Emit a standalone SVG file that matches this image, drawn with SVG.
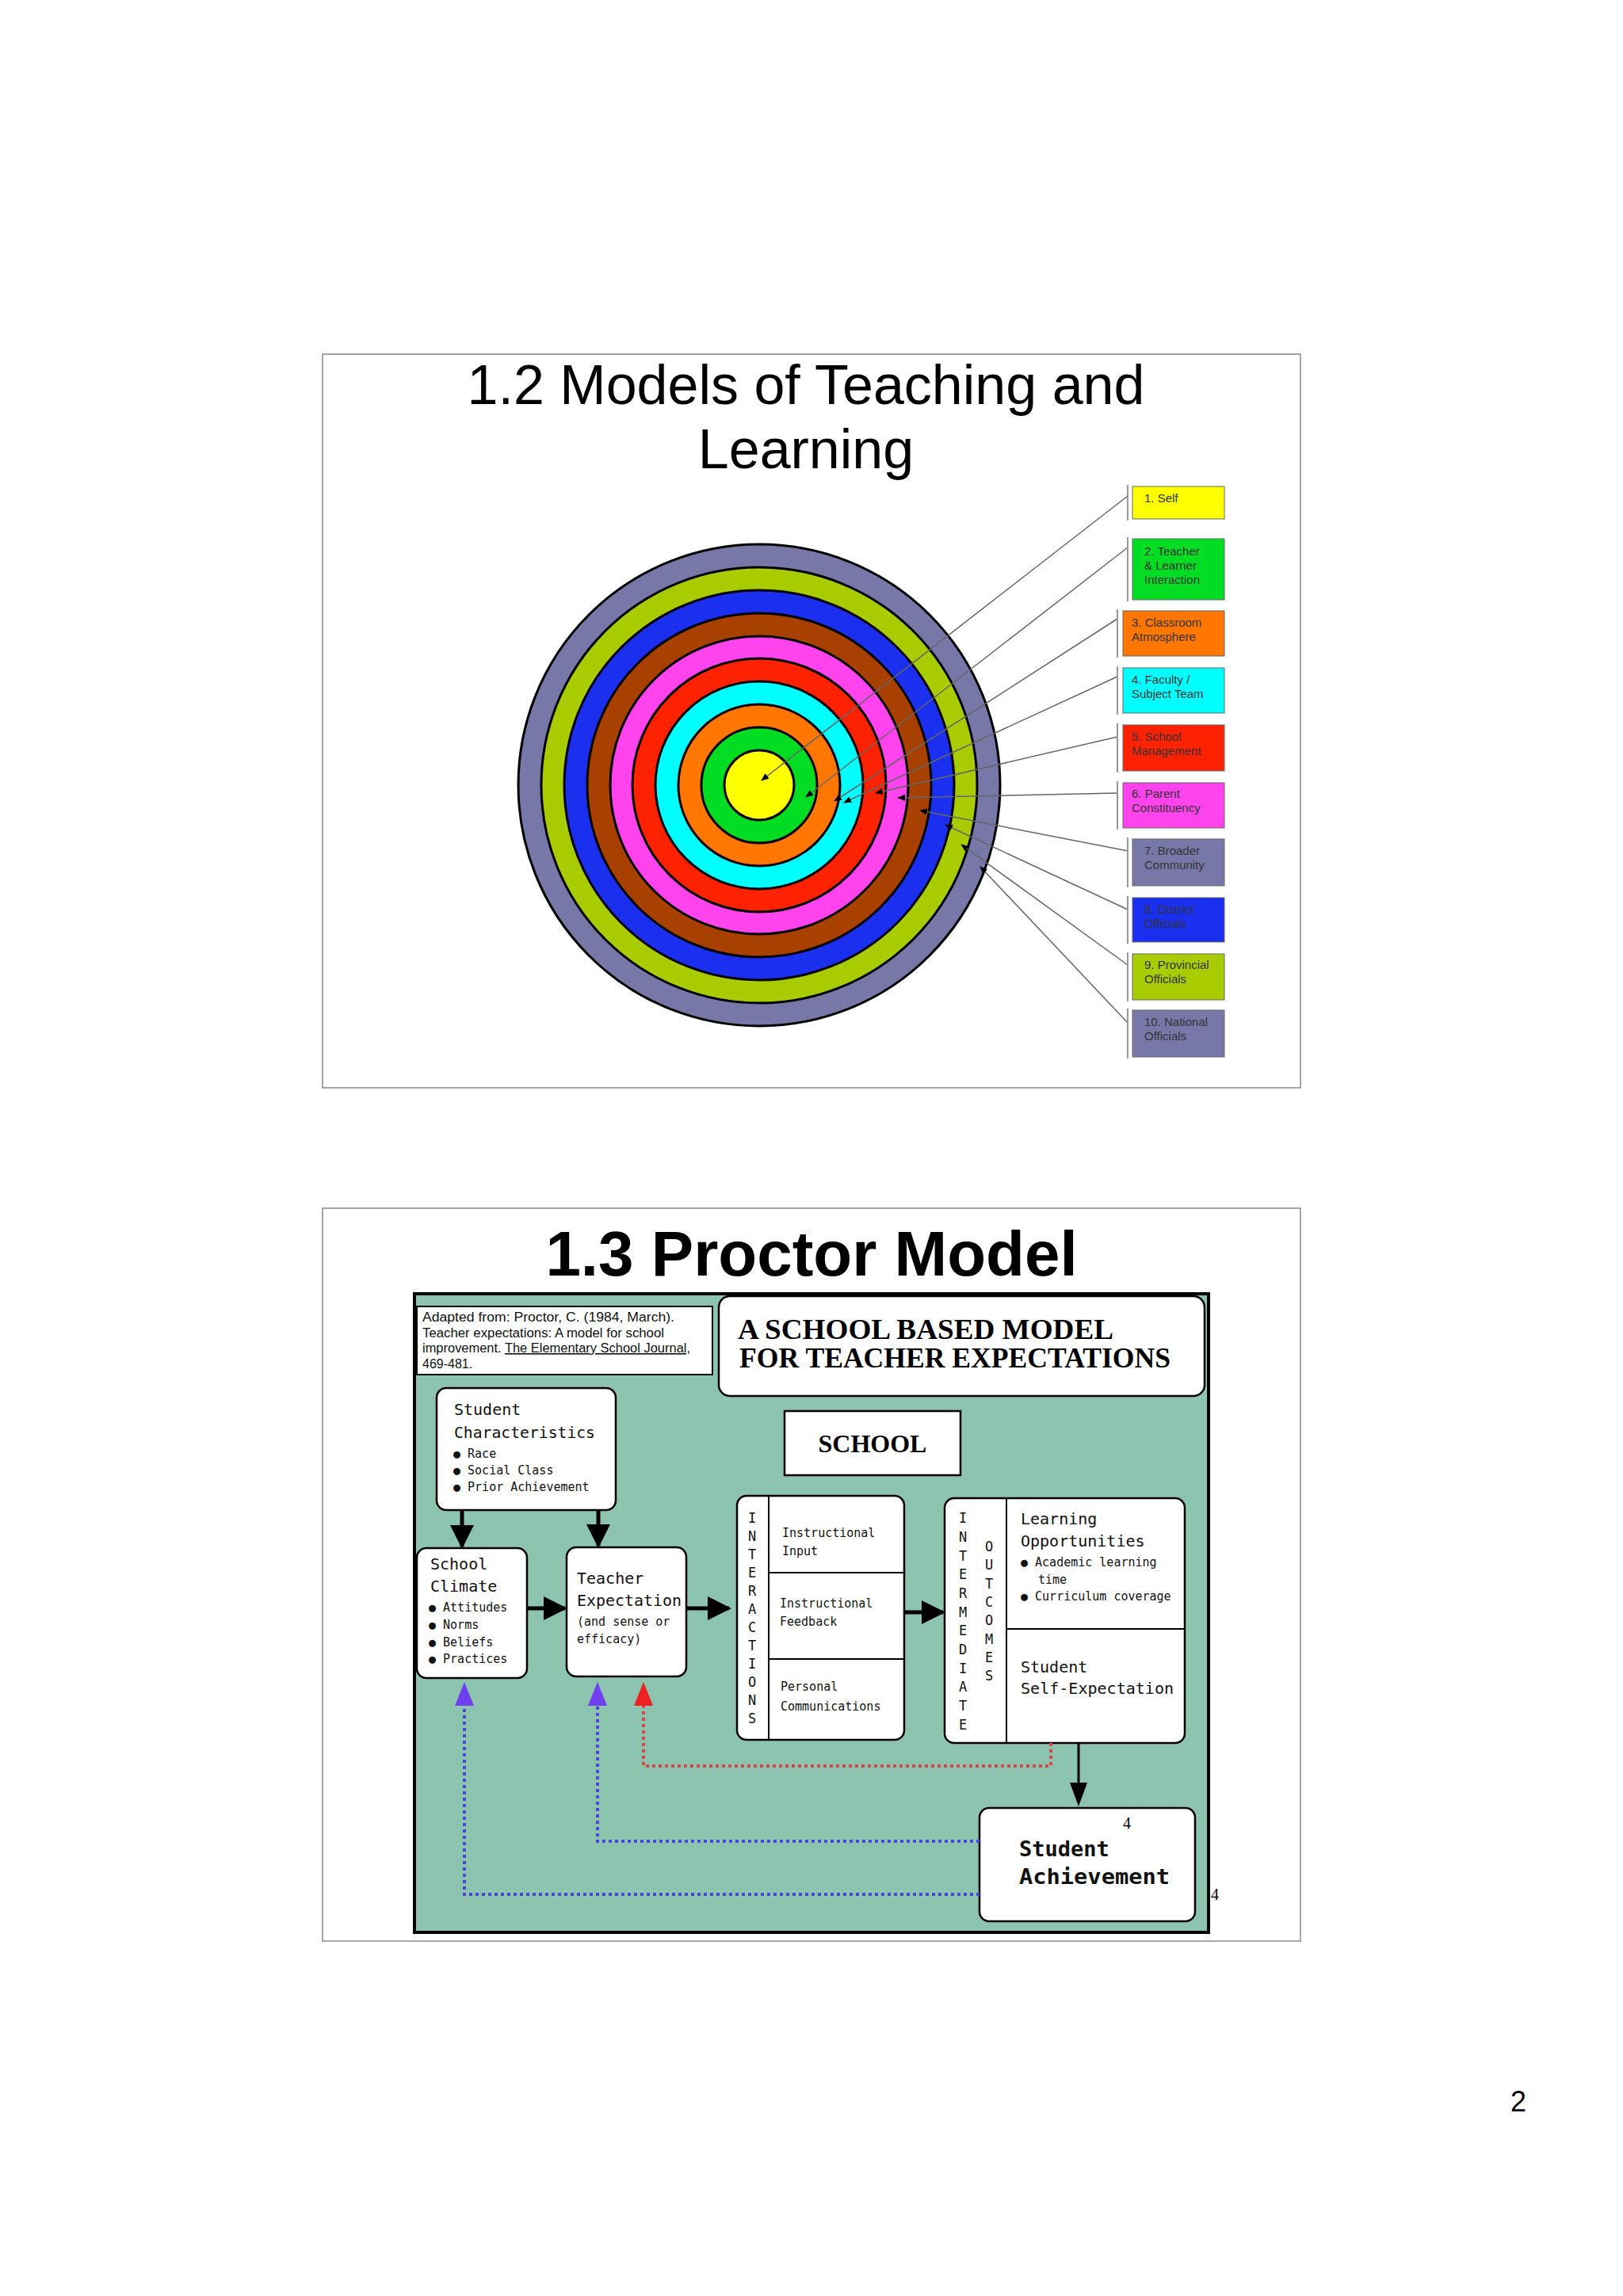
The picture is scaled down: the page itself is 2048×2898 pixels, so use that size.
<svg xmlns="http://www.w3.org/2000/svg" width="2048" height="2898" viewBox="0 0 2048 2898">
<style>
.frame{fill:#fff;stroke:#888;stroke-width:1.5}
.ring{stroke:#000;stroke-width:3}
.lead{stroke:#666;stroke-width:1.5;fill:none}
.lbl{font-family:"Liberation Sans",Arial,sans-serif;font-size:15px;fill:#333}
.vbar{stroke:#999;stroke-width:2}
.box{fill:#fff;stroke:#000;stroke-width:2.5}
.mono{font-family:"DejaVu Sans Mono",monospace;fill:#111}
.h{font-size:20px}
.s{font-size:15px}
.v{font-family:"DejaVu Sans Mono",monospace;font-size:17px;fill:#111;text-anchor:middle}
.cite{font-family:"Liberation Sans Narrow","Liberation Sans",Arial,sans-serif;font-size:16px;fill:#111}
.blk{stroke:#000;stroke-width:5;fill:none}
.dotb{stroke:#4a46d8;stroke-width:4;stroke-dasharray:4 4;fill:none}
.dotr{stroke:#d94848;stroke-width:4;stroke-dasharray:4 4;fill:none}
</style>
<defs>
<marker id="sm" viewBox="0 0 10 10" refX="9" refY="5" markerWidth="10" markerHeight="10" markerUnits="userSpaceOnUse" orient="auto"><path d="M0,1 L10,5 L0,9 z" fill="#000"/></marker>
<marker id="bk" viewBox="0 0 10 10" refX="9" refY="5" markerWidth="6" markerHeight="6" orient="auto"><path d="M0,0 L10,5 L0,10 z" fill="#000"/></marker>
</defs>
<rect width="2048" height="2898" fill="#fff"/>

<!-- Slide 1 -->
<rect class="frame" x="407" y="447" width="1234" height="926"/>
<text x="1017" y="510" font-family="Liberation Sans,Arial,sans-serif" font-size="70" text-anchor="middle">1.2 Models of Teaching and</text>
<text x="1017" y="591" font-family="Liberation Sans,Arial,sans-serif" font-size="70" text-anchor="middle">Learning</text>
<g id="rings">
<circle class="ring" cx="958" cy="991" r="304" fill="#7878a8"/>
<circle class="ring" cx="958" cy="991" r="275" fill="#a8cc00"/>
<circle class="ring" cx="958" cy="991" r="246" fill="#1a30ee"/>
<circle class="ring" cx="958" cy="991" r="217" fill="#a84000"/>
<circle class="ring" cx="958" cy="991" r="188" fill="#ff44ee"/>
<circle class="ring" cx="958" cy="991" r="160" fill="#ff2200"/>
<circle class="ring" cx="958" cy="991" r="131" fill="#00ffff"/>
<circle class="ring" cx="958" cy="991" r="102" fill="#ff7700"/>
<circle class="ring" cx="958" cy="991" r="73" fill="#00dd22"/>
<circle class="ring" cx="958" cy="991" r="44" fill="#ffff00"/>
</g>
<g id="leaders">
<polyline class="lead" points="1423,626 961,985" marker-end="url(#sm)"/>
<polyline class="lead" points="1423,691 1017,1006" marker-end="url(#sm)"/>
<polyline class="lead" points="1410,781 1053,1011" marker-end="url(#sm)"/>
<polyline class="lead" points="1410,854 1065,1013" marker-end="url(#sm)"/>
<polyline class="lead" points="1410,930 1105,1001" marker-end="url(#sm)"/>
<polyline class="lead" points="1410,1001 1133,1007" marker-end="url(#sm)"/>
<polyline class="lead" points="1423,1074 1161,1023" marker-end="url(#sm)"/>
<polyline class="lead" points="1423,1148 1193,1041" marker-end="url(#sm)"/>
<polyline class="lead" points="1423,1218 1213,1066" marker-end="url(#sm)"/>
<polyline class="lead" points="1423,1291 1237,1094" marker-end="url(#sm)"/>
</g>
<g id="lab1"><line class="vbar" x1="1423" y1="612" x2="1423" y2="657"/><rect x="1429" y="614" width="116" height="41" fill="#ffff00" stroke="#666"/><text class="lbl" x="1444" y="634">1. Self</text></g>
<g id="lab2"><line class="vbar" x1="1423" y1="678" x2="1423" y2="759"/><rect x="1429" y="680" width="116" height="77" fill="#00dd22" stroke="#666"/><text class="lbl" x="1444" y="701">2. Teacher</text><text class="lbl" x="1444" y="719">&amp; Learner</text><text class="lbl" x="1444" y="737">Interaction</text></g>
<g id="lab3"><line class="vbar" x1="1410" y1="769" x2="1410" y2="830"/><rect x="1417" y="771" width="128" height="57" fill="#ff7700" stroke="#666"/><text class="lbl" x="1428" y="791">3. Classroom</text><text class="lbl" x="1428" y="809">Atmosphere</text></g>
<g id="lab4"><line class="vbar" x1="1410" y1="841" x2="1410" y2="902"/><rect x="1417" y="843" width="128" height="57" fill="#00ffff" stroke="#666"/><text class="lbl" x="1428" y="863">4. Faculty /</text><text class="lbl" x="1428" y="881">Subject Team</text></g>
<g id="lab5"><line class="vbar" x1="1410" y1="913" x2="1410" y2="975"/><rect x="1417" y="915" width="128" height="58" fill="#ff2200" stroke="#666"/><text class="lbl" x="1428" y="935">5. School</text><text class="lbl" x="1428" y="953">Management</text></g>
<g id="lab6"><line class="vbar" x1="1410" y1="986" x2="1410" y2="1047"/><rect x="1417" y="988" width="128" height="57" fill="#ff44ee" stroke="#666"/><text class="lbl" x="1428" y="1007">6. Parent</text><text class="lbl" x="1428" y="1025">Constituency</text></g>
<g id="lab7"><line class="vbar" x1="1423" y1="1057" x2="1423" y2="1120"/><rect x="1429" y="1059" width="116" height="59" fill="#7878a8" stroke="#666"/><text class="lbl" x="1444" y="1079">7. Broader</text><text class="lbl" x="1444" y="1097">Community</text></g>
<g id="lab8"><line class="vbar" x1="1423" y1="1131" x2="1423" y2="1191"/><rect x="1429" y="1133" width="116" height="56" fill="#1a30ee" stroke="#666"/><text class="lbl" x="1444" y="1153">8. District</text><text class="lbl" x="1444" y="1171">Officials</text></g>
<g id="lab9"><line class="vbar" x1="1423" y1="1202" x2="1423" y2="1264"/><rect x="1429" y="1204" width="116" height="58" fill="#a8cc00" stroke="#666"/><text class="lbl" x="1444" y="1223">9. Provincial</text><text class="lbl" x="1444" y="1241">Officials</text></g>
<g id="lab10"><line class="vbar" x1="1423" y1="1273" x2="1423" y2="1336"/><rect x="1429" y="1275" width="116" height="59" fill="#7878a8" stroke="#666"/><text class="lbl" x="1444" y="1295">10. National</text><text class="lbl" x="1444" y="1313">Officials</text></g>

<!-- Slide 2 -->
<rect class="frame" x="407" y="1525" width="1234" height="925"/>
<text x="1024" y="1610" font-family="Liberation Sans,Arial,sans-serif" font-size="80" font-weight="bold" text-anchor="middle">1.3 Proctor Model</text>
<rect x="523" y="1633" width="1002" height="806" fill="#8cc4b0" stroke="#000" stroke-width="4"/>

<g id="citation"><rect x="526" y="1649" width="373" height="86" fill="#fff" stroke="#000" stroke-width="2"/>
<text class="cite" x="533" y="1668" textLength="318" lengthAdjust="spacingAndGlyphs">Adapted from:  Proctor, C. (1984, March).</text>
<text class="cite" x="533" y="1688" textLength="305" lengthAdjust="spacingAndGlyphs">Teacher expectations:  A model for school</text>
<text class="cite" x="533" y="1707" textLength="338" lengthAdjust="spacingAndGlyphs">improvement.  <tspan text-decoration="underline">The Elementary School Journal,</tspan></text>
<text class="cite" x="533" y="1727">469-481.</text></g>

<g id="title"><rect class="box" x="907" y="1636" width="613" height="126" rx="14"/>
<text x="931" y="1690" font-family="Liberation Serif,serif" font-weight="bold" font-size="36" textLength="474" lengthAdjust="spacingAndGlyphs">A SCHOOL BASED MODEL</text>
<text x="933" y="1726" font-family="Liberation Serif,serif" font-weight="bold" font-size="36" textLength="544" lengthAdjust="spacingAndGlyphs">FOR TEACHER EXPECTATIONS</text></g>

<g id="school"><rect x="990" y="1781" width="222" height="81" fill="#fff" stroke="#000" stroke-width="2.5"/>
<text x="1101" y="1833" font-family="Liberation Serif,serif" font-weight="bold" font-size="32" text-anchor="middle">SCHOOL</text></g>

<g id="studentChar"><rect class="box" x="551" y="1752" width="226" height="154" rx="12"/>
<text class="mono h" x="573" y="1786">Student</text>
<text class="mono h" x="573" y="1815" textLength="178" lengthAdjust="spacingAndGlyphs">Characteristics</text>
<text class="mono s" x="572" y="1840">● Race</text>
<text class="mono s" x="572" y="1861">● Social Class</text>
<text class="mono s" x="572" y="1882">● Prior Achievement</text></g>

<g id="schoolClimate"><rect class="box" x="526" y="1954" width="139" height="164" rx="12"/>
<text class="mono h" x="543" y="1981">School</text>
<text class="mono h" x="543" y="2009">Climate</text>
<text class="mono s" x="541" y="2034">● Attitudes</text>
<text class="mono s" x="541" y="2056">● Norms</text>
<text class="mono s" x="541" y="2078">● Beliefs</text>
<text class="mono s" x="541" y="2099">● Practices</text></g>

<g id="teacherExp"><rect class="box" x="715" y="1953" width="151" height="163" rx="12"/>
<text class="mono h" x="728" y="1999">Teacher</text>
<text class="mono h" x="728" y="2027" textLength="132" lengthAdjust="spacingAndGlyphs">Expectation</text>
<text class="mono s" x="728" y="2052">(and sense or</text>
<text class="mono s" x="728" y="2074">efficacy)</text></g>

<g id="interactions"><rect class="box" x="930" y="1888" width="211" height="308" rx="12"/>
<line x1="970" y1="1888" x2="970" y2="2196" stroke="#000" stroke-width="2"/>
<line x1="970" y1="1985" x2="1141" y2="1985" stroke="#000" stroke-width="2"/>
<line x1="970" y1="2094" x2="1141" y2="2094" stroke="#000" stroke-width="2"/>
<text class="v" x="949" y="1922">I</text><text class="v" x="949" y="1945">N</text><text class="v" x="949" y="1968">T</text><text class="v" x="949" y="1991">E</text><text class="v" x="949" y="2014">R</text><text class="v" x="949" y="2037">A</text><text class="v" x="949" y="2060">C</text><text class="v" x="949" y="2083">T</text><text class="v" x="949" y="2106">I</text><text class="v" x="949" y="2129">O</text><text class="v" x="949" y="2152">N</text><text class="v" x="949" y="2175">S</text>
<text class="mono s" x="987" y="1940">Instructional</text>
<text class="mono s" x="987" y="1963">Input</text>
<text class="mono s" x="984" y="2029">Instructional</text>
<text class="mono s" x="984" y="2052">Feedback</text>
<text class="mono s" x="985" y="2134">Personal</text>
<text class="mono s" x="985" y="2159">Communications</text></g>

<g id="outcomes"><rect class="box" x="1192" y="1891" width="303" height="309" rx="12"/>
<line x1="1270" y1="1891" x2="1270" y2="2200" stroke="#000" stroke-width="2"/>
<line x1="1270" y1="2056" x2="1495" y2="2056" stroke="#000" stroke-width="2"/>
<text class="v" x="1215" y="1922">I</text><text class="v" x="1215" y="1946">N</text><text class="v" x="1215" y="1970">T</text><text class="v" x="1215" y="1993">E</text><text class="v" x="1215" y="2017">R</text><text class="v" x="1215" y="2041">M</text><text class="v" x="1215" y="2064">E</text><text class="v" x="1215" y="2088">D</text><text class="v" x="1215" y="2112">I</text><text class="v" x="1215" y="2135">A</text><text class="v" x="1215" y="2159">T</text><text class="v" x="1215" y="2183">E</text>
<text class="v" x="1248" y="1958">O</text><text class="v" x="1248" y="1981">U</text><text class="v" x="1248" y="2005">T</text><text class="v" x="1248" y="2028">C</text><text class="v" x="1248" y="2051">O</text><text class="v" x="1248" y="2075">M</text><text class="v" x="1248" y="2098">E</text><text class="v" x="1248" y="2121">S</text>
<text class="mono h" x="1288" y="1924">Learning</text>
<text class="mono h" x="1288" y="1952">Opportunities</text>
<text class="mono s" x="1288" y="1977">● Academic learning</text>
<text class="mono s" x="1310" y="1999">time</text>
<text class="mono s" x="1288" y="2020">● Curriculum coverage</text>
<text class="mono h" x="1288" y="2111">Student</text>
<text class="mono h" x="1288" y="2138" textLength="193" lengthAdjust="spacingAndGlyphs">Self-Expectation</text></g>

<g id="achievement"><rect class="box" x="1236" y="2282" width="272" height="143" rx="12"/>
<text x="1422" y="2308" font-family="Liberation Serif,serif" font-size="20" text-anchor="middle">4</text>
<text class="mono" x="1286" y="2343" font-size="27" font-weight="bold">Student</text>
<text class="mono" x="1286" y="2378" font-size="27" font-weight="bold" textLength="190" lengthAdjust="spacingAndGlyphs">Achievement</text></g>
<text x="1528" y="2398" font-family="Liberation Serif,serif" font-size="20">4</text>

<g id="connectors">
<line class="blk" x1="583" y1="1906" x2="583" y2="1952" marker-end="url(#bk)"/>
<line class="blk" x1="755" y1="1906" x2="755" y2="1951" marker-end="url(#bk)"/>
<line class="blk" x1="665" y1="2030" x2="713" y2="2030" marker-end="url(#bk)"/>
<line class="blk" x1="866" y1="2030" x2="920" y2="2030" marker-end="url(#bk)"/>
<line class="blk" x1="1141" y1="2035" x2="1190" y2="2035" marker-end="url(#bk)"/>
<line x1="1361" y1="2200" x2="1361" y2="2250" stroke="#000" stroke-width="3"/>
<path d="M1350,2250 L1372,2250 L1361,2280 z" fill="#000"/>
<polyline class="dotr" points="1326,2200 1326,2229 812,2229 812,2150"/>
<path d="M800,2153 L824,2153 L812,2123 z" fill="#ee2222"/>
<polyline class="dotb" points="1236,2324 754,2324 754,2150"/>
<path d="M742,2153 L766,2153 L754,2123 z" fill="#7040f0"/>
<polyline class="dotb" points="1236,2391 586,2391 586,2150"/>
<path d="M574,2153 L598,2153 L586,2123 z" fill="#7040f0"/>
</g>

<text x="1916" y="2665" font-family="Liberation Sans,Arial,sans-serif" font-size="36" text-anchor="middle">2</text>
</svg>
